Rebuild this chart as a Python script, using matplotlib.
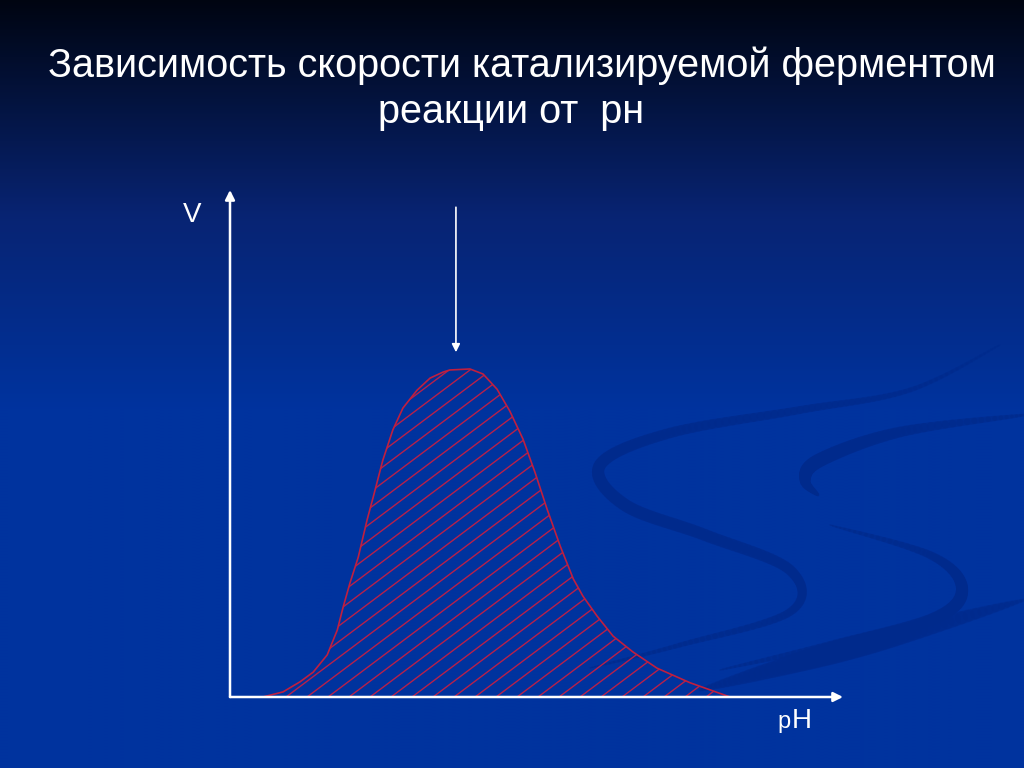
import numpy as np
import matplotlib
matplotlib.use('Agg')
import matplotlib.pyplot as plt
from matplotlib.collections import LineCollection

# curve (pH, relative rate V)
ph = [0.75, 1.21, 1.60, 1.90, 2.22, 2.45, 2.58, 2.74, 2.93, 3.13, 3.27, 3.49,
      3.72, 3.95, 4.27, 4.57, 4.87, 5.02, 5.48, 5.78, 6.10, 6.39, 6.69, 6.97,
      7.24, 7.54, 7.84, 8.06, 8.38, 8.75, 9.20, 9.75, 10.51, 11.42]
v = [0.0, 0.010, 0.030, 0.049, 0.083, 0.132, 0.176, 0.225, 0.276, 0.349, 0.394, 0.467,
     0.527, 0.570, 0.605, 0.629, 0.641, 0.645, 0.647, 0.637, 0.607, 0.564, 0.509, 0.442,
     0.371, 0.298, 0.233, 0.199, 0.160, 0.120, 0.089, 0.057, 0.028, 0.0]

title_1 = 'Зависимость скорости катализируемой ферментом'
title_2 = 'реакции от  рн'
optimum_ph = 5.16
red = '#c01f3f'
hatch_red = '#b8204a'

plt.rcParams['font.family'] = ['Liberation Sans', 'DejaVu Sans']

fig = plt.figure(figsize=(10.24, 7.68), dpi=100)

# ---- background: vertical gradient ----
bg = fig.add_axes([0, 0, 1, 1])
bg.axis('off')
t = np.linspace(0, 1, 256)[:, None]
top = np.array([0.0, 0.02, 0.07])
mid = np.array([0.03, 0.14, 0.45])
bot = np.array([0.0, 0.20, 0.62])
cols = np.where(t < 0.28, top + (mid - top) * (t / 0.28),
                mid + (bot - mid) * np.clip((t - 0.28) / 0.25, 0, 1))
bg.imshow(cols[:, None, :], aspect='auto', extent=[0, 1, 0, 1])
bg.set_xlim(0, 1)
bg.set_ylim(0, 1)


def smooth(pts, n=20):
    # catmull-rom through a few guide points (decoration only)
    p = np.array(pts, dtype=float)
    p = np.vstack([p[0], p, p[-1]])
    out = []
    for i in range(1, len(p) - 2):
        p0, p1, p2, p3 = p[i - 1], p[i], p[i + 1], p[i + 2]
        for s in np.linspace(0, 1, n, endpoint=False):
            out.append(0.5 * ((2 * p1) + (-p0 + p2) * s + (2 * p0 - 5 * p1 + 4 * p2 - p3) * s ** 2
                              + (-p0 + 3 * p1 - 3 * p2 + p3) * s ** 3))
    out.append(p[-2])
    out = np.array(out)
    return out[:, 0] / 1024, 1 - out[:, 1] / 768


def swoosh(pts, w0, w1, color='#002a8c', alpha=0.6):
    x, y = smooth(pts)
    segs = np.stack([np.column_stack([x[:-1], y[:-1]]), np.column_stack([x[1:], y[1:]])], axis=1)
    widths = w0 + (w1 - w0) * np.sin(np.linspace(0, np.pi, len(segs)))
    bg.add_collection(LineCollection(segs, linewidths=widths, colors=color, alpha=alpha,
                                     capstyle='round'))


swoosh([(1000, 345), (910, 390), (800, 410), (670, 433), (600, 465), (625, 505),
        (705, 535), (790, 570), (790, 612), (680, 645), (590, 668)], 1, 9)
swoosh([(1024, 415), (900, 432), (820, 460), (805, 480), (818, 495)], 2, 10)
swoosh([(830, 525), (930, 555), (962, 588), (935, 618), (830, 645), (720, 670)], 1, 9)
swoosh([(1024, 600), (900, 635), (800, 662), (700, 690)], 2, 16, alpha=0.5)

fig.text(48 / 1024, 1 - 77 / 768, title_1, ha='left', va='baseline', color='white',
         fontsize=28.5)
fig.text(378 / 1024, 1 - 123 / 768, title_2, ha='left', va='baseline', color='white',
         fontsize=28.5)

# ---- chart ----
ax = fig.add_axes([230 / 1024, 71 / 768, 613 / 1024, 507 / 768])
ax.patch.set_alpha(0)
ax.set_xlim(0, 14)
ax.set_ylim(0, 1)
for sp in ax.spines.values():
    sp.set_visible(False)
ax.set_xticks([])
ax.set_yticks([])

area = ax.fill_between(ph, v, 0, facecolor='none', edgecolor='none')

# hatching at ~37 degrees, clipped to the area under the curve
aw, ah = 613.0, 507.0
offsets = np.arange(-700, 620, 21.0)
hatch = [[(c / aw, 0), ((c + 900) / aw, 675 / ah)] for c in offsets]
hl = LineCollection(hatch, colors=hatch_red, linewidths=1.0, transform=ax.transAxes)
ax.add_collection(hl)
hl.set_clip_path(area.get_paths()[0], ax.transData)

ax.plot(ph, v, color=red, lw=1.2)

# axes with arrows
ax.annotate('', xy=(1.0, 0), xytext=(0, 0), xycoords='axes fraction',
            arrowprops=dict(arrowstyle='-|>', color='white', lw=1.8, mutation_scale=14,
                            shrinkA=0, shrinkB=0))
ax.annotate('', xy=(0, 1.0), xytext=(0, 0), xycoords='axes fraction',
            arrowprops=dict(arrowstyle='-|>', color='white', lw=1.8, mutation_scale=14,
                            shrinkA=0, shrinkB=0))

# arrow pointing at the optimum
ax.annotate('', xy=(optimum_ph, 0.680), xytext=(optimum_ph, 0.966),
            arrowprops=dict(arrowstyle='-|>', color='white', lw=1.2, mutation_scale=12,
                            shrinkA=0, shrinkB=0))

ax.text(-0.87, 0.95, 'V', color='white', fontsize=20, ha='center', va='center')
fig.text(791 / 1024, 1 - 728 / 768, 'p', color='white', fontsize=17, ha='right', va='baseline')
fig.text(792 / 1024, 1 - 728 / 768, 'H', color='white', fontsize=20, ha='left', va='baseline')

fig.savefig('out.png', dpi=100)
